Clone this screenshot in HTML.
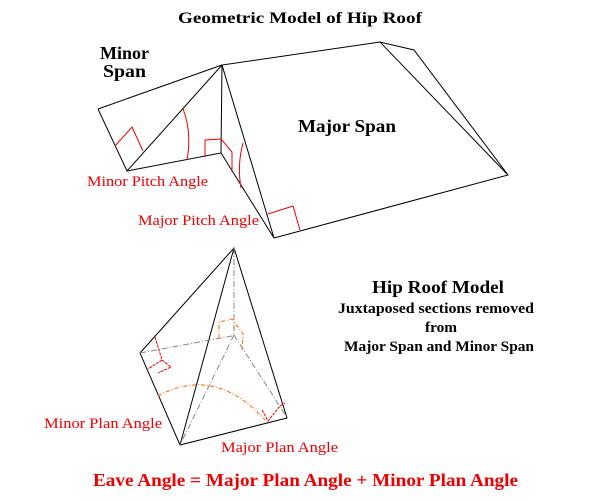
<!DOCTYPE html>
<html><head><style>
body{margin:0;background:#fff}
svg{display:block}
text{font-family:"Liberation Serif",serif}
</style></head><body>
<svg width="600" height="500" viewBox="0 0 600 500" xmlns="http://www.w3.org/2000/svg">
<g fill="none" stroke="#000" stroke-width="1">
<polyline points="98,109 222,65 127,171 98,109"/>
<polyline points="127,171 221,153 222,65"/>
<polyline points="221,153 274,238 222,65 380,42 414,50 508,175 274,238"/>
<line x1="380" y1="42" x2="507" y2="174"/>
<polygon points="234,248 140,353 180,445 287,418"/>
<line x1="234" y1="248" x2="180" y2="445"/>
</g>
<g fill="none" stroke="#e00" stroke-width="1">
<polyline points="115,146 132,127 143,151"/>
<path d="M183,109 Q192,132 187,160"/>
<polyline points="205,157 205,140 221,139 232,152 232,170"/>
<path d="M243,143 Q237,165 241,188"/>
<polyline points="268,214 293,206 300,230"/>
</g>
<g fill="none" stroke="#888" stroke-width="1" stroke-dasharray="6,2,1,2">
<line x1="234" y1="248" x2="234" y2="335"/>
<line x1="234" y1="335" x2="180" y2="445"/>
<line x1="234" y1="335" x2="286" y2="416"/>
<line x1="140" y1="353" x2="232" y2="336"/>
</g>
<g fill="none" stroke="#f60" stroke-width="1" stroke-dasharray="4,2,1,2">
<path d="M158,396 Q215,365 265,420"/>
<polyline points="219,338 219,322 232,319 243,334 242,350"/>
</g>
<g fill="none" stroke="#e00" stroke-width="1" stroke-dasharray="3,1">
<polyline points="155,337 162,360 148,369"/>
<polyline points="162,360 171,367 158,373"/>
<polyline points="262,410 268,421 280,406 285,403"/>
</g>
<g lengthAdjust="spacingAndGlyphs">
<text x="178" y="23" font-size="16" font-weight="bold" textLength="244" lengthAdjust="spacingAndGlyphs">Geometric Model of Hip Roof</text>
<text x="100" y="59" font-size="18" font-weight="bold" textLength="49" lengthAdjust="spacingAndGlyphs">Minor</text>
<text x="103" y="77" font-size="18" font-weight="bold" textLength="43" lengthAdjust="spacingAndGlyphs">Span</text>
<text x="298" y="132" font-size="18" font-weight="bold" textLength="98" lengthAdjust="spacingAndGlyphs">Major Span</text>
<g fill="#e00" font-size="15">
<text x="87" y="186" textLength="121" lengthAdjust="spacingAndGlyphs">Minor Pitch Angle</text>
<text x="138" y="225" textLength="121" lengthAdjust="spacingAndGlyphs">Major Pitch Angle</text>
<text x="44" y="428" textLength="118" lengthAdjust="spacingAndGlyphs">Minor Plan Angle</text>
<text x="221" y="452" textLength="117" lengthAdjust="spacingAndGlyphs">Major Plan Angle</text>
</g>
<text x="372" y="293" font-size="18" font-weight="bold" textLength="132" lengthAdjust="spacingAndGlyphs">Hip Roof Model</text>
<g font-size="15" font-weight="bold">
<text x="338" y="313" textLength="196" lengthAdjust="spacingAndGlyphs">Juxtaposed sections removed</text>
<text x="425" y="332" textLength="32" lengthAdjust="spacingAndGlyphs">from</text>
<text x="344" y="351" textLength="190" lengthAdjust="spacingAndGlyphs">Major Span and Minor Span</text>
</g>
<text x="93" y="486" font-size="18" font-weight="bold" fill="#e00" textLength="425" lengthAdjust="spacingAndGlyphs">Eave Angle = Major Plan Angle + Minor Plan Angle</text>
</g>
</svg>
</body></html>
